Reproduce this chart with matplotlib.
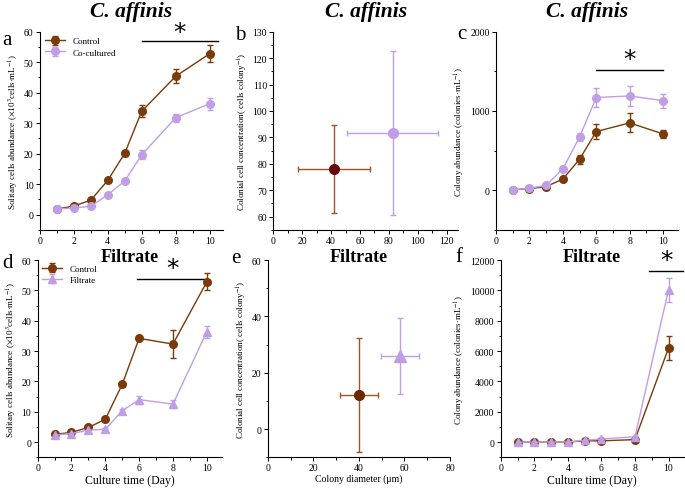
import matplotlib.pyplot as plt
from matplotlib.ticker import AutoMinorLocator

plt.rcParams["font.family"] = ["Liberation Serif", "DejaVu Serif"]
plt.rcParams["mathtext.fontset"] = "stix"

BROWN = "#7a3a0a"
LILAC = "#c09ee6"

days = [1, 2, 3, 4, 5, 6, 8, 10]

# a: solitary cells, co-culture
a_ctrl = [1.8, 2.8, 4.7, 11.2, 20.1, 33.9, 45.4, 52.8]
a_ctrl_err = [0.3, 0.4, 0.5, 0.6, 0.9, 2.0, 2.3, 2.8]
a_co = [1.8, 2.2, 2.7, 6.5, 11.0, 19.6, 31.8, 36.4]
a_co_err = [0.3, 0.3, 0.4, 0.5, 0.6, 1.5, 1.3, 2.0]

# b: colony diameter vs colonial cell concentration, co-culture
b_x = [42, 82.5]
b_xerr = [25, 31.5]
b_y = [78, 91.7]
b_yerr = [16.6, 31.2]

# c: colony abundance, co-culture
c_ctrl = [5, 20, 45, 140, 390, 740, 850, 710]
c_ctrl_err = [5, 10, 15, 20, 55, 90, 120, 50]
c_co = [5, 25, 60, 270, 670, 1170, 1190, 1130]
c_co_err = [5, 10, 15, 20, 50, 120, 130, 90]

# d: solitary cells, filtrate
d_ctrl = [2.5, 3.2, 4.8, 7.5, 19.0, 34.2, 32.3, 52.8]
d_ctrl_err = [0.3, 0.3, 0.3, 0.4, 0.5, 0.5, 4.7, 2.8]
d_fil = [2.3, 2.8, 3.9, 4.2, 10.3, 14.0, 12.5, 36.3]
d_fil_err = [0.3, 0.3, 0.3, 0.3, 0.5, 1.3, 1.3, 2.0]

# e: colony diameter vs colonial cell concentration, filtrate
e_x = [40, 58]
e_xerr = [8.5, 8.3]
e_y = [12, 26]
e_yerr = [20.2, 13.5]

# f: colony abundance, filtrate
f_ctrl = [0, 0, 0, 0, 80, 80, 160, 6200]
f_ctrl_err = [20, 20, 20, 20, 40, 40, 60, 800]
f_fil = [0, 0, 0, 0, 120, 200, 350, 10050]
f_fil_err = [20, 20, 20, 20, 40, 60, 80, 800]

fig = plt.figure(figsize=(6.85, 4.89), dpi=100)

boxes = {
    "a": [0.058, 0.528, 0.268, 0.405],
    "b": [0.399, 0.528, 0.270, 0.405],
    "c": [0.724, 0.528, 0.266, 0.405],
    "d": [0.055, 0.063, 0.269, 0.403],
    "e": [0.391, 0.063, 0.266, 0.403],
    "f": [0.731, 0.063, 0.267, 0.403],
}
axs = {k: fig.add_axes(v) for k, v in boxes.items()}


def style(ax):
    for s in ("top", "right"):
        ax.spines[s].set_visible(False)
    ax.spines["left"].set_linewidth(0.8)
    ax.spines["bottom"].set_linewidth(0.8)
    ax.xaxis.set_minor_locator(AutoMinorLocator(2))
    ax.yaxis.set_minor_locator(AutoMinorLocator(2))
    ax.tick_params(which="both", direction="out", labelsize=7, width=0.7, pad=1.5)
    ax.tick_params(which="major", length=3)
    ax.tick_params(which="minor", length=1.8)


def line(ax, y, err, color, marker, label=None):
    ax.errorbar(days, y, yerr=err, color=color, marker=marker, markersize=5.5,
                linewidth=1.0, elinewidth=1.0, capsize=2, capthick=1.0, label=label)


def star(ax, x0, x1, y, ys):
    ax.plot([x0, x1], [y, y], color="black", linewidth=1.0, clip_on=False)
    ax.text((x0 + x1) / 2, ys, "*", ha="center", va="center", fontsize=18,
            family="DejaVu Sans", clip_on=False)


ylab_solitary = r"Solitary cells abundance ($\times$10$^3$cells$\cdot$mL$^{-1}$)"
ylab_colonial = "Colonial cell concentration( cells colony$^{-1}$)"
ylab_colony = "Colony abundance (colonies$\cdot$mL$^{-1}$)"

# a
ax = axs["a"]
line(ax, a_ctrl, a_ctrl_err, BROWN, "o", "Control")
line(ax, a_co, a_co_err, LILAC, "o", "Co-cultured")
ax.set_xlim(0, 10.8)
ax.set_ylim(-5, 60)
ax.set_xticks([0, 2, 4, 6, 8, 10])
ax.set_yticks([0, 10, 20, 30, 40, 50, 60])
ax.set_ylabel(ylab_solitary, fontsize=6.5, labelpad=2)
ax.legend(loc="upper left", fontsize=6.5, frameon=False, handlelength=2.2,
          borderaxespad=0.2, labelspacing=0.3)
star(ax, 6, 10.5, 57, 60)

# b
ax = axs["b"]
ax.errorbar(b_x[0], b_y[0], xerr=b_xerr[0], yerr=b_yerr[0], fmt="o", color="#6a0a0a",
            ecolor="#a0522d", markersize=7, elinewidth=1.0, capsize=2, capthick=1.0)
ax.errorbar(b_x[1], b_y[1], xerr=b_xerr[1], yerr=b_yerr[1], fmt="o", color=LILAC,
            ecolor=LILAC, markersize=7, elinewidth=1.0, capsize=2, capthick=1.0)
ax.set_xlim(0, 128)
ax.set_ylim(55, 130)
ax.set_xticks([0, 20, 40, 60, 80, 100, 120])
ax.set_yticks(range(60, 131, 10))
ax.set_ylabel(ylab_colonial, fontsize=6.5, labelpad=2)

# c
ax = axs["c"]
line(ax, c_ctrl, c_ctrl_err, BROWN, "o")
line(ax, c_co, c_co_err, LILAC, "o")
ax.set_xlim(0, 10.9)
ax.set_ylim(-500, 2000)
ax.set_xticks([0, 2, 4, 6, 8, 10])
ax.set_yticks([0, 1000, 2000])
ax.set_ylabel(ylab_colony, fontsize=6.5, labelpad=2)
star(ax, 6, 10, 1520, 1660)

# d
ax = axs["d"]
line(ax, d_ctrl, d_ctrl_err, BROWN, "o", "Control")
line(ax, d_fil, d_fil_err, LILAC, "^", "Filtrate")
ax.set_xlim(0, 10.9)
ax.set_ylim(-5, 60)
ax.set_xticks([0, 2, 4, 6, 8, 10])
ax.set_yticks([0, 10, 20, 30, 40, 50, 60])
ax.set_ylabel(ylab_solitary, fontsize=6.5, labelpad=2)
ax.set_xlabel("Culture time (Day)", fontsize=8.5, labelpad=1)
ax.legend(loc="upper left", fontsize=6.5, frameon=False, handlelength=2.2,
          borderaxespad=0.1, labelspacing=0.3)
star(ax, 5.9, 10.1, 53.8, 57.5)

# e
ax = axs["e"]
ax.errorbar(e_x[0], e_y[0], xerr=e_xerr[0], yerr=e_yerr[0], fmt="o", color="#6a2a00",
            ecolor="#a0522d", markersize=7, elinewidth=1.0, capsize=2, capthick=1.0)
ax.errorbar(e_x[1], e_y[1], xerr=e_xerr[1], yerr=e_yerr[1], fmt="^", color=LILAC,
            ecolor=LILAC, markersize=8, elinewidth=1.0, capsize=2, capthick=1.0)
ax.set_xlim(0, 80)
ax.set_ylim(-10, 60)
ax.set_xticks([0, 20, 40, 60, 80])
ax.set_yticks([0, 20, 40, 60])
ax.set_ylabel(ylab_colonial, fontsize=6.5, labelpad=2)
ax.set_xlabel("Colony diameter (μm)", fontsize=7, labelpad=1)

# f
ax = axs["f"]
line(ax, f_ctrl, f_ctrl_err, BROWN, "o")
line(ax, f_fil, f_fil_err, LILAC, "^")
ax.set_xlim(0, 10.9)
ax.set_ylim(-1000, 12000)
ax.set_xticks([0, 2, 4, 6, 8, 10])
ax.set_yticks(range(0, 12001, 2000))
ax.set_ylabel(ylab_colony, fontsize=6.5, labelpad=2)
ax.set_xlabel("Culture time (Day)", fontsize=8.5, labelpad=1)
star(ax, 8.85, 10.85, 11270, 12000)

for ax in axs.values():
    style(ax)

# column titles
for k in ("a", "b", "c"):
    b = boxes[k]
    fig.text(b[0] + b[2] / 2, 0.975, "C. affinis", ha="center", va="center",
             fontsize=15.5, fontweight="bold", fontstyle="italic")
for k in ("d", "e", "f"):
    b = boxes[k]
    fig.text(b[0] + b[2] / 2, 0.474, "Filtrate", ha="center", va="center",
             fontsize=13, fontweight="bold")

# panel letters
letters = {"a": (0.003, 0.918), "b": (0.343, 0.928), "c": (0.668, 0.930),
           "d": (0.003, 0.462), "e": (0.338, 0.472), "f": (0.665, 0.474)}
for k, (x, y) in letters.items():
    fig.text(x, y, k, fontsize=15, ha="left", va="center")

fig.savefig("out.png", dpi=100)
